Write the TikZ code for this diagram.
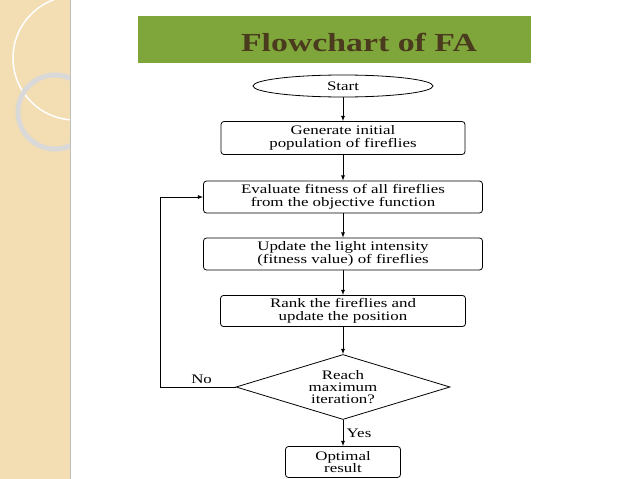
\documentclass[tikz,border=0pt]{standalone}
\usepackage{fontspec}
\setmainfont{Liberation Serif}[FakeStretch=1.3]
\usetikzlibrary{shapes.geometric, positioning}
\definecolor{titlegreen}{HTML}{7FA63A}
\definecolor{titlebrown}{HTML}{4A3A1E}
\definecolor{stripe}{HTML}{F3DDB2}
\tikzset{
  block/.style = {draw, thick, rounded corners=3pt, align=center, font=\fontsize{13}{12.5}\selectfont},
  link/.style  = {draw, thick, -latex}
}
\begin{document}
\begin{tikzpicture}[x=1pt, y=-1pt]
  \useasboundingbox (0,0) rectangle (638,479);
  % slide background
  \fill[stripe] (0,0) rectangle (70,479);
  \begin{scope}
    \clip (0,0) rectangle (70,479);
    \draw[white, line width=1.5pt] (75,58) circle (62);
    \draw[black!15, line width=5pt] (55,112) circle (37);
  \end{scope}
  \draw[black!25, thick] (70,0) -- (70,479);
  \fill[titlegreen] (138,16) rectangle (531,63);
  \node[font=\fontsize{26}{26}\selectfont\bfseries, text=titlebrown] (title) at (359,42) {Flowchart of FA};
  % flowchart
  \node[draw, thick, ellipse, minimum width=180, minimum height=22, inner sep=1pt, font=\fontsize{13}{13}\selectfont] (start) at (343,86) {Start};
  \node[block, minimum width=244, minimum height=33] (gen) at (343,138) {Generate initial\\population of fireflies};
  \node[block, minimum width=279, minimum height=32] (eval) at (343,197) {Evaluate fitness of all fireflies\\from the objective function};
  \node[block, minimum width=279, minimum height=32] (upd) at (343,254) {Update the light intensity\\(fitness value) of fireflies};
  \node[block, minimum width=245, minimum height=31] (rank) at (343,311) {Rank the fireflies and\\update the position};
  \node[draw, thick, diamond, aspect=3.3, minimum width=214, minimum height=65, inner sep=0pt, align=center, font=\fontsize{13}{12}\selectfont] (reach) at (343,387) {Reach\\maximum\\iteration?};
  \node[block, minimum width=115, minimum height=31] (opt) at (343,462) {Optimal\\result};
  \coordinate (corner) at (160,387);
  \path[link] (start) -- (gen);
  \path[link] (gen) -- (eval);
  \path[link] (eval) -- (upd);
  \path[link] (upd) -- (rank);
  \path[link] (rank) -- (reach);
  \path[link] (reach) -- node[right, font=\fontsize{13}{13}\selectfont] {Yes} (opt);
  \path[link] (reach.west) -- node[above, pos=0.45, font=\fontsize{13}{13}\selectfont] {No} (corner) |- (eval.west);
\end{tikzpicture}
\end{document}
